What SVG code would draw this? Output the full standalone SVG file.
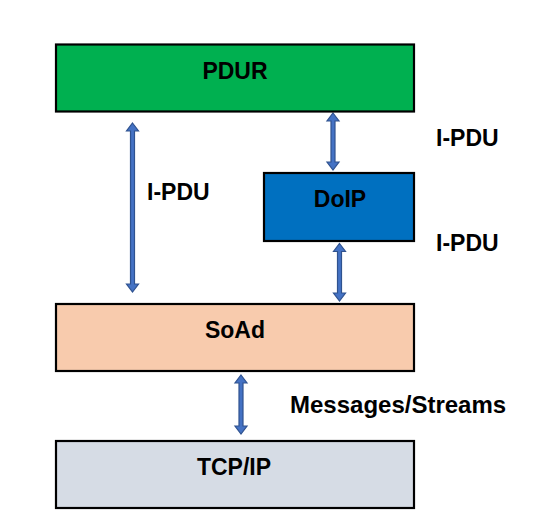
<svg xmlns="http://www.w3.org/2000/svg" width="540" height="530" viewBox="0 0 540 530">
<style>
.box{stroke:#000;stroke-width:2.2}
.t{font-family:"Liberation Sans",Arial,sans-serif;font-weight:bold;font-size:23px;fill:#000}
.c{text-anchor:middle}
.arr{fill:#4472C4;stroke:#2F528F;stroke-width:1.2}
</style>
<rect width="540" height="530" fill="#fff"/>
<g id="connectors">
<path class="arr" d="M132.5,123 L138.5,131 L134.5,131 L134.5,284 L138.5,284 L132.5,292 L126.5,284 L130.5,284 L130.5,131 L126.5,131 Z"/>
<path class="arr" d="M333,113 L339,121 L335,121 L335,162 L339,162 L333,170 L327,162 L331,162 L331,121 L327,121 Z"/>
<path class="arr" d="M339.5,243.5 L345.5,251.5 L341.5,251.5 L341.5,293 L345.5,293 L339.5,301 L333.5,293 L337.5,293 L337.5,251.5 L333.5,251.5 Z"/>
<path class="arr" d="M241,375 L247,383 L243,383 L243,426 L247,426 L241,434 L235,426 L239,426 L239,383 L235,383 Z"/>
<text class="t" x="147" y="200">I-PDU</text>
<text class="t" x="436" y="146">I-PDU</text>
<text class="t" x="436" y="251">I-PDU</text>
<text class="t" x="290" y="413" style="font-size:24px">Messages/Streams</text>
</g>
<g id="pdur">
<rect class="box" x="56" y="44.5" width="358" height="67" fill="#00B050"/>
<text class="t c" x="235" y="79">PDUR</text>
</g>
<g id="doip">
<rect class="box" x="264" y="173" width="150" height="68" fill="#0070C0"/>
<text class="t c" x="340" y="207">DoIP</text>
</g>
<g id="soad">
<rect class="box" x="56" y="304" width="358" height="67" fill="#F8CBAD"/>
<text class="t c" x="235" y="338">SoAd</text>
</g>
<g id="tcpip">
<rect class="box" x="56" y="441" width="358" height="67" fill="#D6DCE5"/>
<text class="t c" x="234" y="475">TCP/IP</text>
</g>
</svg>
